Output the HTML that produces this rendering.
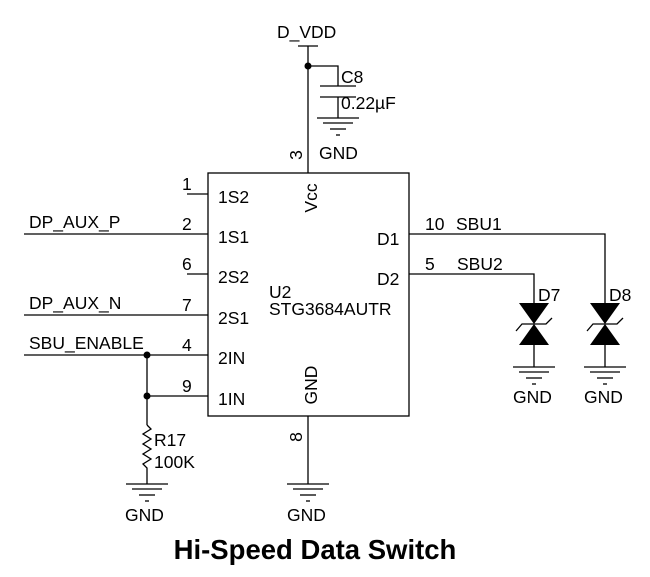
<!DOCTYPE html>
<html><head><style>body{margin:0;background:#fff}svg{display:block}text{font-family:"Liberation Sans",Arial,sans-serif;font-size:17.5px;fill:#000}</style></head>
<body>
<svg width="650" height="577" viewBox="0 0 650 577" xmlns="http://www.w3.org/2000/svg">
<defs>
<g id="gnd" stroke="#000" stroke-width="1.3">
<line x1="-21" y1="0" x2="21" y2="0"/><line x1="-15" y1="5" x2="15" y2="5"/><line x1="-8" y1="11" x2="8" y2="11"/><line x1="-2" y1="17" x2="2" y2="17"/>
</g>
<g id="tvs">
<polygon points="-15,0 15,0 0,21" fill="#000"/>
<polygon points="-15,42 15,42 0,21" fill="#000"/>
<polyline points="-18,28 -12,21 12,21 18,15" fill="none" stroke="#000" stroke-width="1.3"/>
</g>
</defs>
<g stroke="#000" stroke-width="1.3" fill="none">
<rect x="208" y="173" width="201" height="243"/>
<line x1="298" y1="46" x2="318" y2="46"/>
<line x1="308" y1="46" x2="308" y2="173"/>
<polyline points="308,66 338,66 338,86"/>
<line x1="320" y1="86" x2="356" y2="86"/>
<line x1="320" y1="97" x2="356" y2="97"/>
<line x1="338" y1="97" x2="338" y2="118"/>
<line x1="187" y1="194" x2="208" y2="194"/>
<line x1="24" y1="234" x2="208" y2="234"/>
<line x1="187" y1="274" x2="208" y2="274"/>
<line x1="24" y1="315" x2="208" y2="315"/>
<line x1="24" y1="355" x2="208" y2="355"/>
<line x1="147" y1="396" x2="208" y2="396"/>
<line x1="147" y1="355" x2="147" y2="425"/>
<polyline points="147,425 151,429 143,434 151,439 143,444 151,449 143,454 151,459 143,464 147,468 147,484"/>
<line x1="308" y1="416" x2="308" y2="484"/>
<polyline points="409,234 605,234 605,303"/>
<polyline points="409,274 534,274 534,303"/>
<line x1="534" y1="345" x2="534" y2="367"/>
<line x1="605" y1="345" x2="605" y2="367"/>
</g>
<circle cx="308" cy="66" r="3.5"/>
<circle cx="147" cy="355" r="3.5"/>
<circle cx="147" cy="396" r="3.5"/>
<use href="#gnd" x="338" y="118"/>
<use href="#gnd" x="147" y="484"/>
<use href="#gnd" x="308" y="484"/>
<use href="#gnd" x="534" y="367"/>
<use href="#gnd" x="605" y="367"/>
<use href="#tvs" x="534" y="303"/>
<use href="#tvs" x="605" y="303"/>
<text x="277" y="38">D_VDD</text>
<text x="341" y="83">C8</text>
<text x="341" y="109">0.22µF</text>
<text x="319" y="159">GND</text>
<text transform="translate(302,155) rotate(-90)" text-anchor="middle">3</text>
<text transform="translate(317,198) rotate(-90)" text-anchor="middle">Vcc</text>
<text transform="translate(317,385) rotate(-90)" text-anchor="middle">GND</text>
<text transform="translate(302,437) rotate(-90)" text-anchor="middle">8</text>
<text x="182" y="190">1</text>
<text x="182" y="230">2</text>
<text x="182" y="270">6</text>
<text x="182" y="311">7</text>
<text x="182" y="351">4</text>
<text x="182" y="392">9</text>
<text x="218" y="203">1S2</text>
<text x="218" y="243">1S1</text>
<text x="218" y="283">2S2</text>
<text x="218" y="324">2S1</text>
<text x="218" y="364">2IN</text>
<text x="218" y="405">1IN</text>
<text x="29" y="228">DP_AUX_P</text>
<text x="29" y="309">DP_AUX_N</text>
<text x="29" y="349">SBU_ENABLE</text>
<text x="269" y="298">U2</text>
<text x="269" y="315">STG3684AUTR</text>
<text x="377" y="245">D1</text>
<text x="377" y="285">D2</text>
<text x="425" y="230">10</text>
<text x="456" y="230">SBU1</text>
<text x="425" y="270">5</text>
<text x="457" y="270">SBU2</text>
<text x="538" y="301">D7</text>
<text x="609" y="301">D8</text>
<text x="513" y="403">GND</text>
<text x="584" y="403">GND</text>
<text x="154" y="446">R17</text>
<text x="154" y="468">100K</text>
<text x="125" y="521">GND</text>
<text x="287" y="521">GND</text>
<text x="315" y="559" text-anchor="middle" style="font-size:27.5px;font-weight:bold">Hi-Speed Data Switch</text>
</svg>
</body></html>
